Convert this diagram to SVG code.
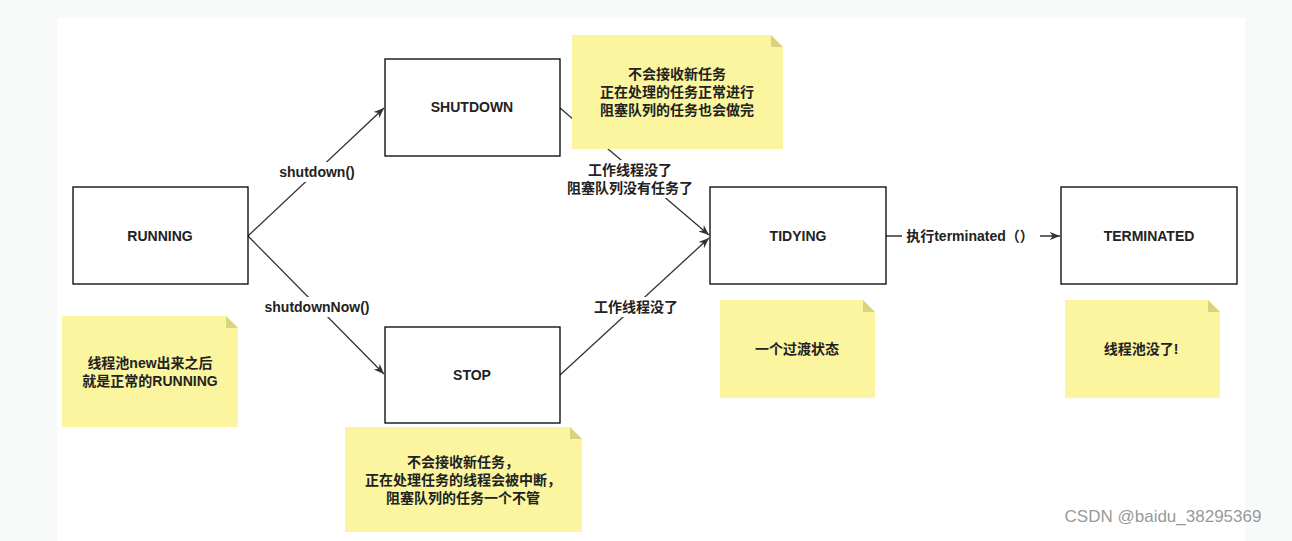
<svg xmlns="http://www.w3.org/2000/svg" width="1292" height="541" viewBox="0 0 1292 541">
<style>
.box{fill:#fff;stroke:#000;stroke-width:1.3}
.note{fill:#fbf59f}
.fold{fill:#d9d37f}
.t{font-family:"Liberation Sans","Noto Sans CJK SC",sans-serif;font-size:14px;font-weight:bold;fill:#222;text-anchor:middle;dominant-baseline:central}
.ln{stroke:#333;stroke-width:1.3;fill:none;marker-end:url(#ah)}
.bg{fill:#fff}
</style>
<defs><marker id="ah" viewBox="0 0 10 10" refX="10" refY="5" markerWidth="8" markerHeight="8" orient="auto"><path d="M0,1 L10,5 L0,9 L3,5 Z" fill="#333"/></marker></defs>
<rect width="1292" height="541" fill="#f8f9f9"/>
<rect x="57" y="18" width="1188" height="523" fill="#fff"/>
<g id="connectors">
<line class="ln" x1="248" y1="236" x2="384" y2="108"/>
<line class="ln" x1="248" y1="236" x2="384" y2="374"/>
<line class="ln" x1="560" y1="108" x2="709" y2="235"/>
<line class="ln" x1="560" y1="375" x2="709" y2="238"/>
<line class="ln" x1="886" y1="236" x2="1060" y2="236"/>
<rect class="bg" x="272" y="162" width="90" height="20"/>
<text class="t" x="317" y="172">shutdown()</text>
<rect class="bg" x="256" y="297" width="122" height="20"/>
<text class="t" x="317" y="307">shutdownNow()</text>
<rect class="bg" x="574" y="160" width="112" height="38"/>
<text class="t" x="630" y="170">工作线程没了</text>
<text class="t" x="630" y="188">阻塞队列没有任务了</text>
<rect class="bg" x="588" y="297" width="96" height="20"/>
<text class="t" x="636" y="307">工作线程没了</text>
<rect class="bg" x="902" y="226" width="138" height="20"/>
<text class="t" x="970" y="236">执行terminated（）</text>
</g>
<g id="running"><rect class="box" x="73" y="187" width="175" height="97"/><text class="t" x="160" y="236">RUNNING</text></g>
<g id="shutdown"><rect class="box" x="385" y="59" width="175" height="97"/><text class="t" x="472" y="107">SHUTDOWN</text></g>
<g id="stop"><rect class="box" x="385" y="327" width="175" height="96"/><text class="t" x="472" y="375">STOP</text></g>
<g id="tidying"><rect class="box" x="710" y="187" width="176" height="97"/><text class="t" x="798" y="236">TIDYING</text></g>
<g id="terminated"><rect class="box" x="1061" y="187" width="176" height="97"/><text class="t" x="1149" y="236">TERMINATED</text></g>
<g id="note-shutdown"><path class="note" d="M572,35 H771 L783,47 V149 H572 Z"/><path class="fold" d="M771,35 L783,47 H771 Z"/>
<text class="t" x="677" y="74">不会接收新任务</text><text class="t" x="677" y="92">正在处理的任务正常进行</text><text class="t" x="677" y="110">阻塞队列的任务也会做完</text></g>
<g id="note-running"><path class="note" d="M62,316 H226 L238,328 V427 H62 Z"/><path class="fold" d="M226,316 L238,328 H226 Z"/>
<text class="t" x="150" y="363">线程池new出来之后</text><text class="t" x="150" y="381">就是正常的RUNNING</text></g>
<g id="note-stop"><path class="note" d="M345,427 H570 L582,439 V532 H345 Z"/><path class="fold" d="M570,427 L582,439 H570 Z"/>
<text class="t" x="463" y="462">不会接收新任务，</text><text class="t" x="463" y="480">正在处理任务的线程会被中断，</text><text class="t" x="463" y="498">阻塞队列的任务一个不管</text></g>
<g id="note-tidying"><path class="note" d="M720,300 H863 L875,312 V398 H720 Z"/><path class="fold" d="M863,300 L875,312 H863 Z"/>
<text class="t" x="797" y="349">一个过渡状态</text></g>
<g id="note-terminated"><path class="note" d="M1065,300 H1208 L1220,312 V398 H1065 Z"/><path class="fold" d="M1208,300 L1220,312 H1208 Z"/>
<text class="t" x="1141" y="349">线程池没了!</text></g>
<text x="1163" y="522" font-family="Liberation Sans,sans-serif" font-size="17" fill="#999" text-anchor="middle">CSDN @baidu_38295369</text>
</svg>
